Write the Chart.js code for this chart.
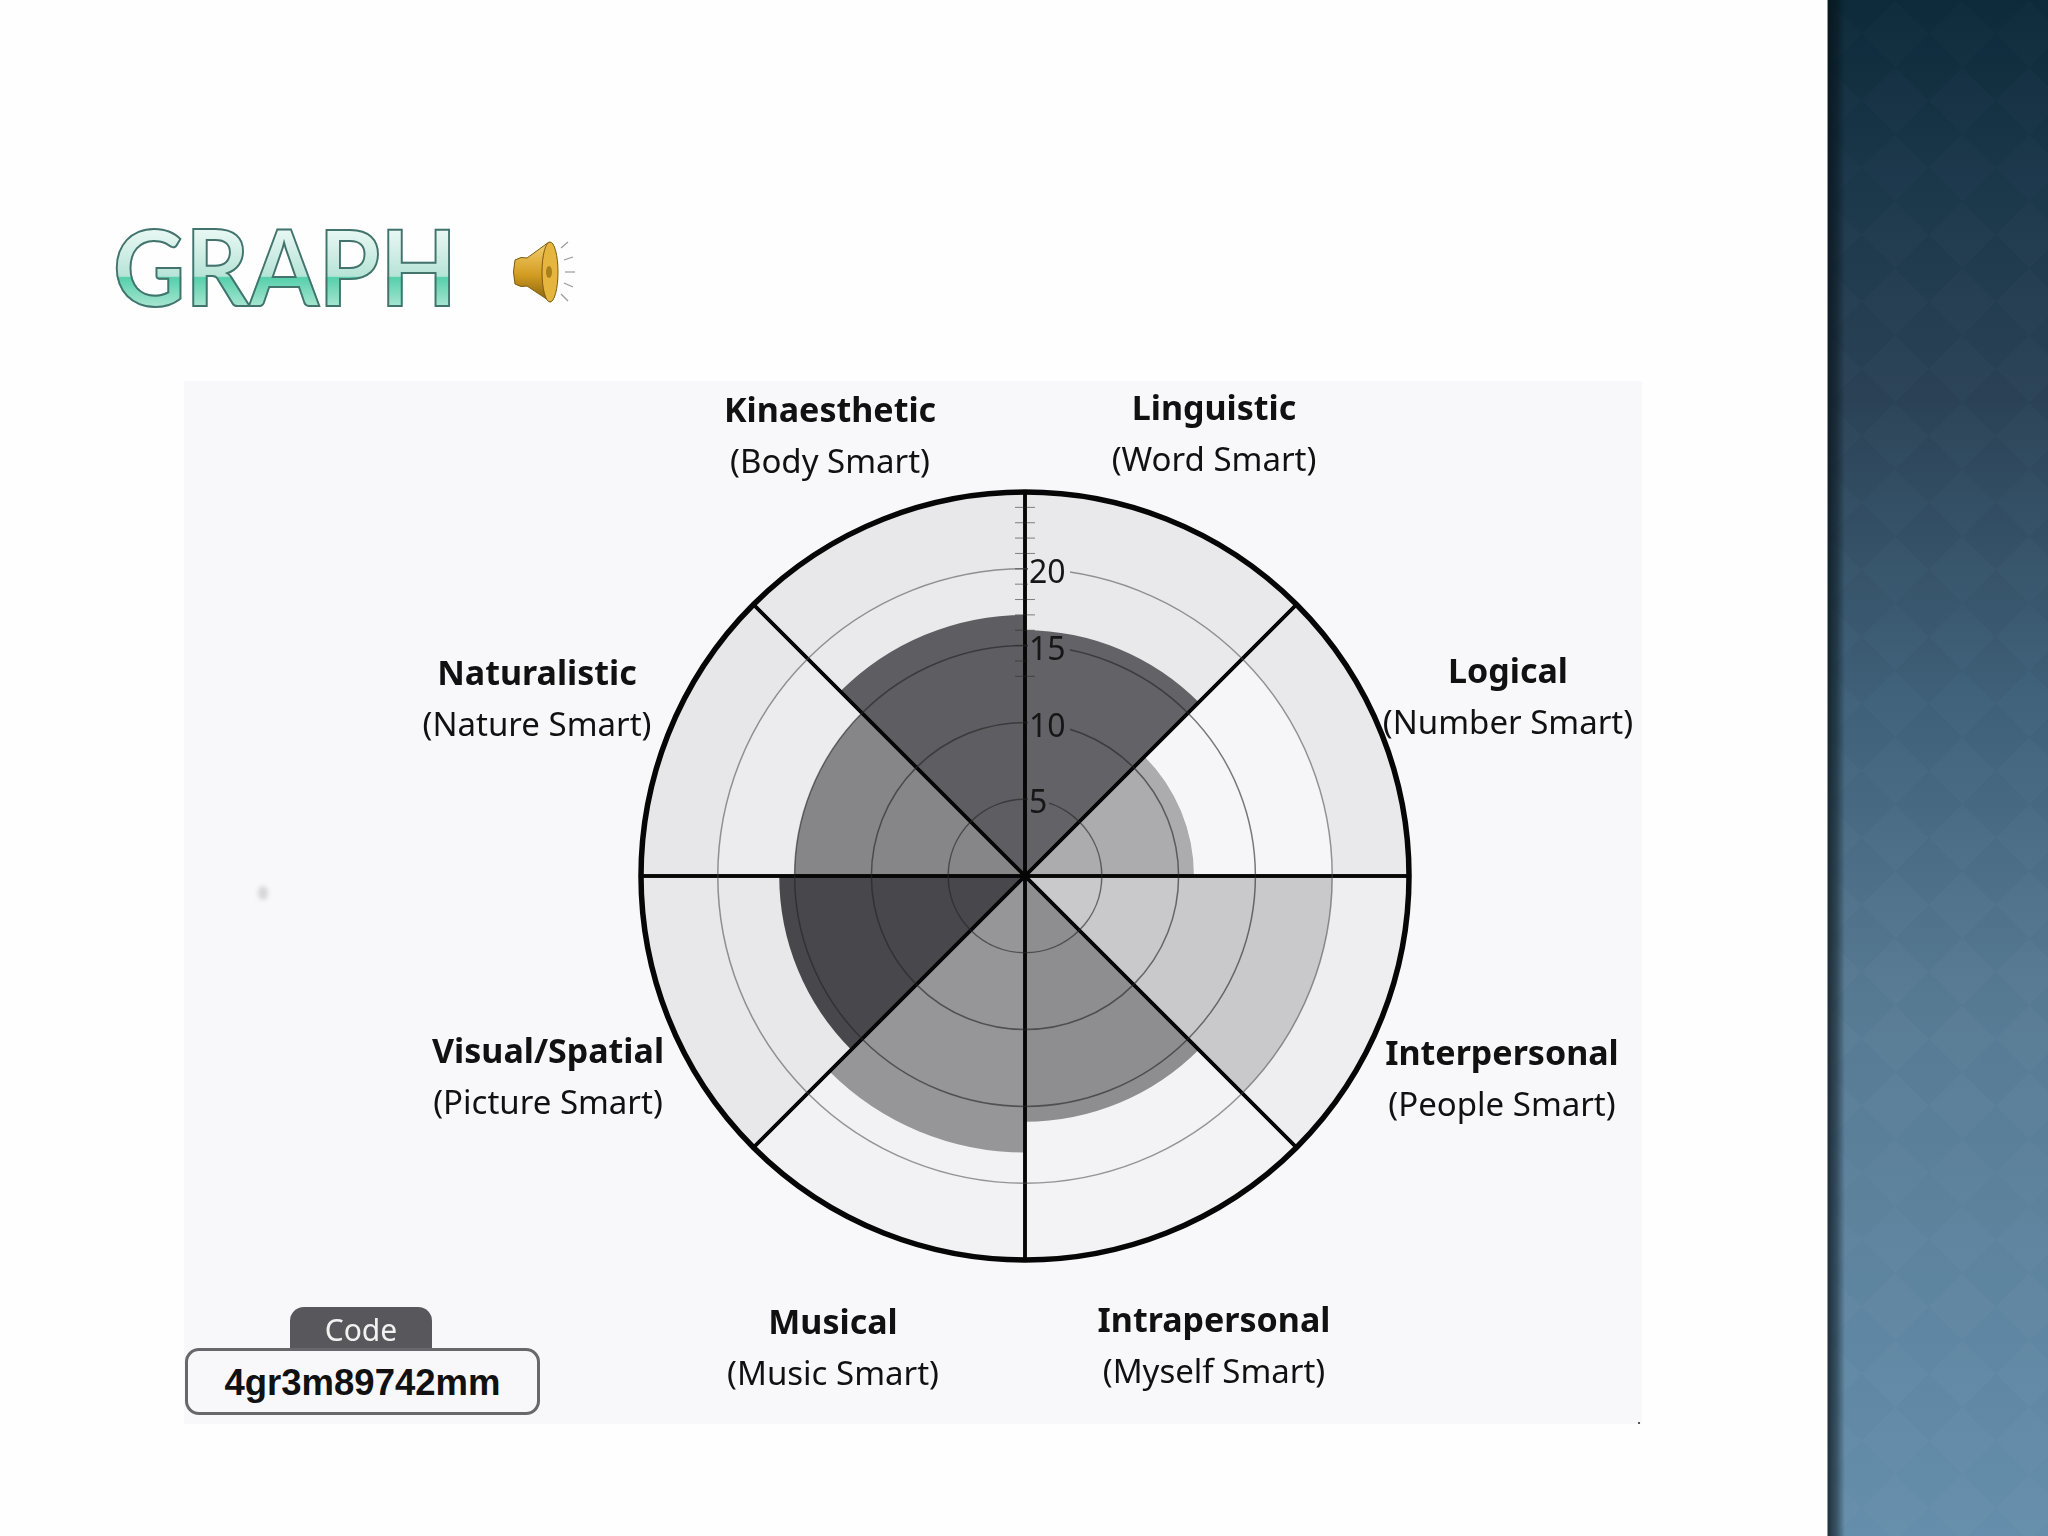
<!DOCTYPE html>
<html>
<head>
<meta charset="utf-8">
<title>Graph</title>
<script src="https://cdn.jsdelivr.net/npm/chart.js@4"></script>
<style>
  html, body { margin: 0; padding: 0; background: #fefefe; }
  body { position: relative; width: 2048px; height: 1536px; overflow: hidden; }
  .side-panel {
    position: absolute; left: 1827px; top: 0; width: 220px; height: 1536px;
    border-left: 1px solid #8f9496;
    background:
      linear-gradient(90deg, rgba(5,15,20,.72) 0, rgba(5,15,20,.45) 9px, rgba(5,15,20,0) 17px),
      conic-gradient(from 45deg, rgba(255,255,255,.012) 25%, rgba(0,0,0,.008) 0 50%, rgba(255,255,255,.012) 0 75%, rgba(0,0,0,.008) 0) 0 0 / 67px 67px,
      linear-gradient(180deg, #0c2a3a 0, #1b374b 12%, #2b4357 26%, #3e6078 45%, #587b94 65%, #658fac 100%);
  }
  .slide-title {
    position: absolute; left: 113px; top: 195px; margin: 0;
    font: 700 106px Lato, "Noto Sans", sans-serif; line-height: 140px;
    transform: scaleX(.94); transform-origin: left center;
    color: transparent;
    background: linear-gradient(180deg, #eaf8f4 24%, #b7e4d7 58%, #56cfab 59%, #a9e6d1 80%);
    -webkit-background-clip: text; background-clip: text;
    -webkit-text-stroke: 2px #43736d;
  }
  .speaker { position: absolute; left: 511px; top: 236px; }
  #chartWrap { position: absolute; left: 184px; top: 381px; width: 1458px; height: 1043px; background: #f8f8fb; }
  .code-tab {
    position: absolute; left: 290px; top: 1307px; width: 142px; height: 44px;
    background: #58585c; border-radius: 14px 14px 0 0; color: #f2f2f2;
    font: 30px "Noto Sans", sans-serif; line-height: 46px; text-align: center;
  }
  .code-box {
    position: absolute; left: 185px; top: 1348px; width: 349px; height: 61px;
    background: #f8f8fb; border: 3px solid #68686c; border-radius: 14px; color: #111;
    font: 700 36.5px "Liberation Sans", Arial, sans-serif; line-height: 63px; text-align: center;
  }
  .smudge { position: absolute; left: 258px; top: 886px; width: 10px; height: 14px; border-radius: 50%; background: #d6d6d8; filter: blur(2px); }
  .speck { position: absolute; left: 1638px; top: 1422px; width: 2px; height: 2px; background: #555; }
</style>
</head>
<body>
<div class="side-panel"></div>
<h1 class="slide-title">GRAPH</h1>
<svg class="speaker" width="70" height="72" viewBox="0 0 70 72">
  <defs>
    <linearGradient id="horn" x1="0" y1="0" x2="0" y2="1">
      <stop offset="0" stop-color="#f4d070"/><stop offset=".55" stop-color="#d39c22"/><stop offset="1" stop-color="#84600e"/>
    </linearGradient>
  </defs>
  <path d="M4 24 Q10 20 16 22 L38 6 L40 66 L16 50 Q10 52 4 48 Q1 36 4 24 Z" fill="url(#horn)" stroke="#7d5c10" stroke-width="1"/>
  <ellipse cx="39" cy="36" rx="8" ry="30" fill="#e6b53e" stroke="#7d5c10"/>
  <ellipse cx="38" cy="36" rx="3" ry="6" fill="#a97f1c"/>
  <g stroke="#9a9a9a" stroke-width="1.2">
    <line x1="50" y1="12" x2="57" y2="6"/><line x1="53" y1="24" x2="62" y2="21"/><line x1="54" y1="36" x2="64" y2="36"/>
    <line x1="53" y1="47" x2="62" y2="51"/><line x1="50" y1="58" x2="57" y2="65"/>
  </g>
</svg>
<div id="chartWrap"><canvas id="wheelChart" width="1458" height="1043"></canvas></div>
<div class="smudge"></div>
<div class="speck"></div>
<div class="code-tab">Code</div>
<div class="code-box">4gr3m89742mm</div>

<script>
// Wedges run clockwise from twelve o'clock
const categories = ['Linguistic', 'Logical', 'Interpersonal', 'Intrapersonal', 'Musical', 'Visual/Spatial', 'Naturalistic', 'Kinaesthetic'];
const subLabels = ['(Word Smart)', '(Number Smart)', '(People Smart)', '(Myself Smart)', '(Music Smart)', '(Picture Smart)', '(Nature Smart)', '(Body Smart)'];
const scores = [16, 11, 20, 16, 18, 16, 15, 17];
const innerBand = [20, 20, 20, 20, 20, 20, 20, 20];
const outerBand = [25, 25, 25, 25, 25, 25, 25, 25];
const tickLabels = [5, 10, 15, 20];

const scoreColors = ['#636367', '#acacaf', '#c9c9cc', '#8e8e91', '#969699', '#48484c', '#868689', '#5e5e62'];
const innerColors = ['#e9e9ec', '#f6f6f9', '#eeeef1', '#f3f3f6', '#f2f2f5', '#e8e8eb', '#ececef', '#eaeaed'];
const outerColors = ['#e9e9ec', '#e9e9ec', '#eeeef0', '#f3f3f6', '#f2f2f5', '#e8e8eb', '#e7e7ea', '#e8e8eb'];

// Text, scale marks and spoke labels go on top of the wedges
const wheelText = {
  id: 'wheelText',
  afterDraw(chart) {
    const scale = chart.scales.r;
    const ctx = chart.ctx;
    const cx = scale.xCenter;
    const cy = scale.yCenter;
    ctx.save();

    // small unit marks on the vertical axis
    ctx.strokeStyle = 'rgba(40,40,40,.55)';
    ctx.lineWidth = 1;
    for (let v = 13; v < 25; v++) {
      const y = cy - scale.getDistanceFromCenterForValue(v);
      ctx.beginPath();
      ctx.moveTo(cx - 10, y);
      ctx.lineTo(cx + 10, y);
      ctx.stroke();
    }

    ctx.font = '32px "Noto Sans", sans-serif';
    ctx.textAlign = 'left';
    ctx.textBaseline = 'middle';
    tickLabels.forEach(v => {
      const y = cy - scale.getDistanceFromCenterForValue(v);
      ctx.fillStyle = v <= scores[0] ? scoreColors[0] : innerColors[0];
      ctx.fillRect(cx + 3, y - 10, v < 10 ? 21 : 42, 30);
      ctx.fillStyle = '#161616';
      ctx.fillText(String(v), cx + 4, y + 5);
    });

    // label blocks, offsets from the wheel centre
    const anchors = [[189, -440], [483, -177], [477, 205], [189, 472], [-192, 474], [-477, 203], [-488, -175], [-195, -438]];
    ctx.textAlign = 'center';
    ctx.fillStyle = '#111';
    categories.forEach((name, i) => {
      const x = cx + anchors[i][0];
      const y = cy + anchors[i][1];
      ctx.font = '700 34px "Noto Sans", sans-serif';
      ctx.fillText(name, x, y - 26);
      ctx.font = '400 33px "Noto Sans", sans-serif';
      ctx.fillText(subLabels[i], x, y + 26);
    });
    ctx.restore();
  }
};

const wheelChart = new Chart(document.getElementById('wheelChart').getContext('2d'), {
  type: 'polarArea',
  data: {
    labels: categories,
    datasets: [
      { label: 'Spokes', data: outerBand, backgroundColor: 'rgba(0,0,0,0)', borderColor: '#060606', borderWidth: 3.5 },
      { label: 'Score', data: scores, backgroundColor: scoreColors, borderWidth: 0 },
      { label: 'Inner', data: innerBand, backgroundColor: innerColors, borderWidth: 0 },
      { label: 'Outer', data: outerBand, backgroundColor: outerColors, borderWidth: 0 }
    ]
  },
  plugins: [wheelText],
  options: {
    responsive: false,
    animation: false,
    devicePixelRatio: 1,
    layout: { padding: { left: 457, right: 233, top: 111, bottom: 164 } },
    plugins: { legend: { display: false }, tooltip: { enabled: false } },
    scales: {
      r: {
        min: 0,
        max: 25,
        ticks: { stepSize: 5, display: false },
        grid: {
          z: 1,
          circular: true,
          color: ctx => ctx.tick.value === 25 ? '#060606' : (ctx.tick.value === 20 ? 'rgba(70,70,70,.55)' : 'rgba(35,35,35,.6)'),
          lineWidth: ctx => ctx.tick.value === 25 ? 5.5 : 1.5
        }
      }
    }
  }
});
</script>
</body>
</html>
